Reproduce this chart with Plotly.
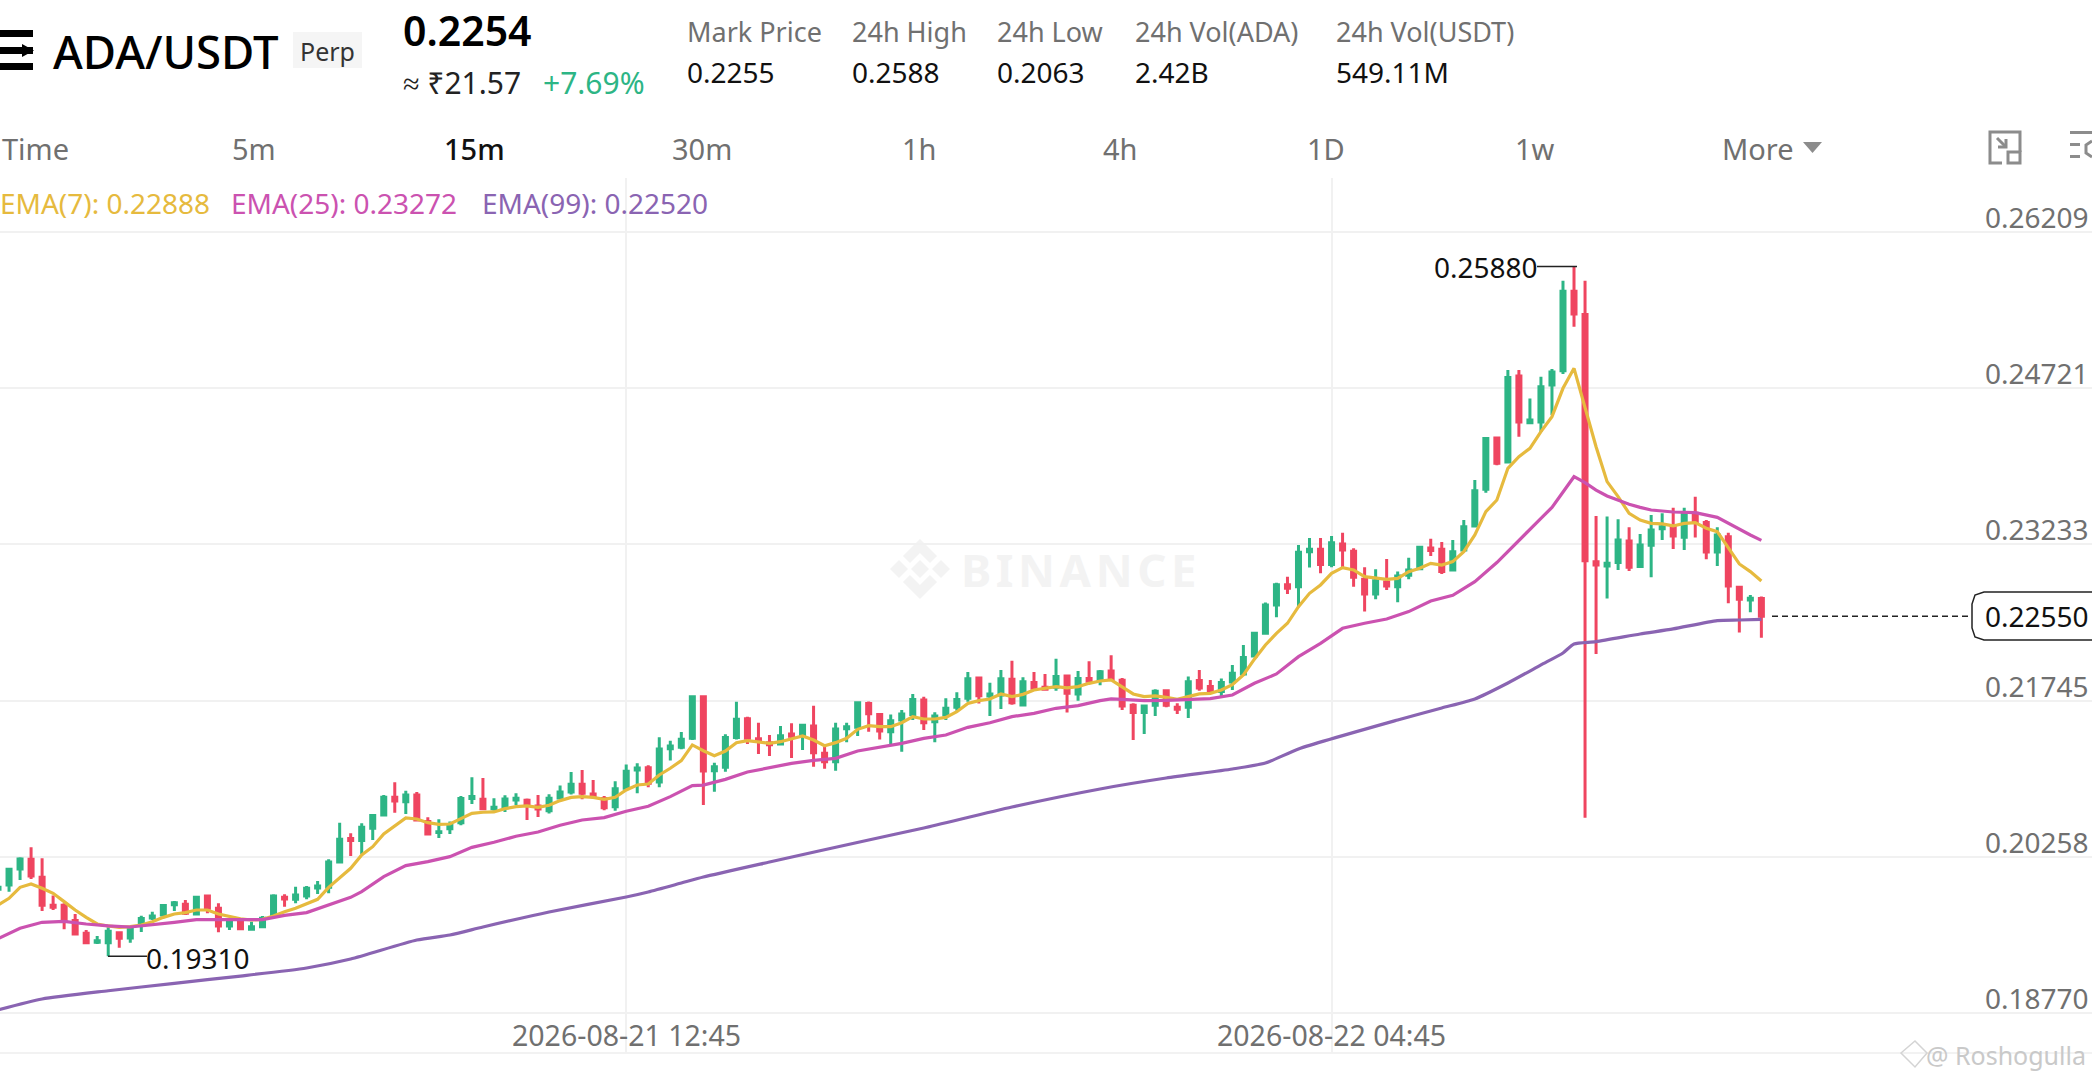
import pandas as pd
import plotly.graph_objects as go

W, H = 2092, 1079
FONT = "Noto Sans"

# candles, 15m
opens = [
    .19948, .19989, .20142, .20234, .20062, .19796, .19796, .19650, .19529, .19443,
    .19440, .19535, .19485, .19612, .19675, .19704, .19802, .19805, .19713, .19885,
    .19767, .19599, .19650, .19567, .19592, .19704, .19872, .19853, .19885, .19961,
    .19967, .20208, .20431, .20412, .20529, .20656, .20824, .20783, .20847, .20593,
    .20488, .20526, .20583, .20812, .20805, .20716, .20729, .20799, .20796, .20742,
    .20697, .20818, .20875, .20948, .20856, .20812, .20735, .20910, .21085, .21107,
    .20970, .21288, .21301, .21386, .21783, .21078, .21110, .21395, .21573, .21383,
    .21345, .21332, .21427, .21408, .21503, .21243, .21164, .21478, .21491, .21719,
    .21614, .21449, .21560, .21614, .21751, .21545, .21608, .21681, .21767, .21961,
    .21789, .21799, .21948, .21704, .21917, .21872, .21872, .21980, .21809, .21955,
    .21942, .22028, .21939, .21701, .21631, .21701, .21840, .21682, .21682, .21936,
    .21879, .21831, .21923, .21999, .22171, .22386, .22656, .22850, .22831, .23164,
    .23187, .23041, .23237, .23168, .22901, .22761, .22875, .22831, .22939, .23002,
    .23199, .23187, .22990, .23180, .23408, .23758, .24247, .24018, .24837, .24393,
    .24399, .24751, .24888, .25644, .25424, .23069, .23028, .23060, .23266, .23022,
    .23225, .23383, .23402, .23301, .23529, .23441, .23161, .23307, .22825, .22704,
    .22717,
]
highs = [
    .19989, .20148, .20253, .20348, .20243, .19888, .19815, .19713, .19561, .19504,
    .19586, .19545, .19577, .19697, .19735, .19799, .19837, .19846, .19878, .19897,
    .19815, .19662, .19662, .19640, .19694, .19900, .19900, .19973, .19980, .20027,
    .20234, .20583, .20481, .20577, .20662, .20847, .20967, .20888, .20875, .20634,
    .20615, .20593, .20837, .21015, .21009, .20815, .20843, .20862, .20812, .20847,
    .20853, .20936, .21066, .21085, .20989, .20837, .20977, .21136, .21148, .21129,
    .21396, .21364, .21447, .21795, .21795, .21154, .21424, .21735, .21592, .21535,
    .21418, .21503, .21529, .21522, .21697, .21306, .21535, .21535, .21735, .21738,
    .21624, .21614, .21656, .21808, .21783, .21634, .21767, .21824, .22018, .21973,
    .21916, .22037, .22126, .21967, .22018, .21999, .22145, .21990, .22028, .22120,
    .22037, .22177, .21961, .21720, .21704, .21853, .21853, .21720, .21974, .22037,
    .21942, .21955, .22085, .22275, .22402, .22679, .22869, .22926, .23228, .23295,
    .23295, .23314, .23345, .23196, .23015, .22996, .23095, .22974, .23107, .23206,
    .23288, .23256, .23275, .23466, .23846, .24250, .24253, .24894, .24894, .24624,
    .24831, .24904, .25745, .25880, .25745, .23504, .23498, .23472, .23396, .23333,
    .23514, .23529, .23583, .23583, .23688, .23466, .23396, .23345, .22837, .22752,
    .22736,
]
lows = [
    .19935, .19926, .20037, .20047, .19742, .19751, .19567, .19510, .19427, .19427,
    .19310, .19392, .19440, .19542, .19656, .19681, .19742, .19704, .19704, .19719,
    .19539, .19561, .19567, .19561, .19583, .19681, .19783, .19815, .19853, .19904,
    .19910, .20202, .20266, .20285, .20418, .20650, .20678, .20666, .20596, .20469,
    .20437, .20475, .20558, .20761, .20710, .20697, .20685, .20751, .20608, .20637,
    .20669, .20805, .20850, .20805, .20812, .20701, .20697, .20901, .20862, .20920,
    .20920, .21174, .21282, .21370, .20751, .20878, .21068, .21376, .21332, .21237,
    .21218, .21319, .21199, .21275, .21116, .21097, .21078, .21348, .21408, .21449,
    .21376, .21329, .21259, .21560, .21465, .21348, .21560, .21649, .21735, .21719,
    .21599, .21665, .21707, .21694, .21840, .21840, .21840, .21631, .21745, .21923,
    .21891, .21936, .21656, .21370, .21428, .21599, .21682, .21618, .21580, .21840,
    .21809, .21790, .21847, .21980, .22158, .22380, .22539, .22761, .22634, .23012,
    .22958, .23015, .23015, .22831, .22593, .22710, .22799, .22682, .22901, .22996,
    .23123, .22952, .22990, .23164, .23402, .23726, .23986, .24012, .24259, .24380,
    .24304, .24466, .24856, .25307, .20630, .22190, .22717, .22990, .22980, .23022,
    .22920, .23275, .23190, .23180, .23298, .23091, .23028, .22672, .22393, .22587,
    .22345,
]
closes = [
    .19967, .20139, .20237, .20075, .19796, .19777, .19650, .19523, .19440, .19459,
    .19548, .19481, .19567, .19669, .19694, .19793, .19821, .19719, .19872, .19767,
    .19599, .19650, .19573, .19592, .19672, .19885, .19856, .19894, .19958, .19980,
    .20208, .20424, .20412, .20539, .20650, .20824, .20789, .20847, .20608, .20475,
    .20497, .20558, .20812, .20831, .20716, .20729, .20809, .20815, .20764, .20713,
    .20815, .20875, .20948, .20862, .20837, .20726, .20907, .21072, .21104, .20958,
    .21285, .21313, .21377, .21783, .21075, .21116, .21395, .21567, .21386, .21364,
    .21326, .21411, .21405, .21510, .21249, .21164, .21475, .21497, .21726, .21621,
    .21456, .21554, .21618, .21757, .21535, .21599, .21672, .21757, .21954, .21792,
    .21808, .21954, .21726, .21926, .21863, .21853, .21974, .21815, .21955, .21929,
    .22021, .21948, .21694, .21631, .21694, .21834, .21701, .21663, .21926, .21866,
    .21828, .21917, .22005, .22155, .22386, .22656, .22850, .22815, .23158, .23187,
    .23041, .23250, .23180, .22920, .22761, .22888, .22837, .22933, .22990, .23206,
    .23174, .22974, .23164, .23402, .23745, .24243, .24005, .24824, .24399, .24418,
    .24735, .24875, .25644, .25428, .23078, .23037, .23053, .23275, .23015, .23228,
    .23371, .23402, .23314, .23529, .23450, .23161, .23323, .22837, .22710, .22720,
    .22550,
]
times = pd.date_range("2026-08-20 22:30", periods=len(closes), freq="15min")

ema7 = [
    .19799, .19862, .19967, .19999, .19958, .19910, .19831, .19751, .19681, .19618,
    .19599, .19586, .19592, .19608, .19640, .19681, .19713, .19726, .19751, .19751,
    .19713, .19688, .19666, .19656, .19662, .19694, .19735, .19767, .19808, .19853,
    .19967, .20053, .20148, .20275, .20354, .20475, .20551, .20628, .20618, .20583,
    .20567, .20570, .20621, .20672, .20682, .20685, .20716, .20735, .20742, .20729,
    .20748, .20793, .20824, .20831, .20824, .20805, .20824, .20894, .20942, .20951,
    .21037, .21101, .21174, .21323, .21268, .21221, .21265, .21345, .21364, .21354,
    .21338, .21354, .21380, .21408, .21370, .21316, .21345, .21386, .21472, .21507,
    .21497, .21497, .21535, .21592, .21570, .21570, .21586, .21640, .21719, .21745,
    .21761, .21808, .21783, .21805, .21847, .21863, .21879, .21866, .21879, .21910,
    .21932, .21942, .21872, .21809, .21783, .21790, .21777, .21758, .21783, .21809,
    .21815, .21847, .21897, .21990, .22140, .22275, .22386, .22482, .22640, .22767,
    .22847, .22958, .23012, .22990, .22926, .22910, .22901, .22910, .22974, .23006,
    .23053, .23037, .23069, .23164, .23323, .23545, .23656, .23958, .24069, .24148,
    .24307, .24450, .24720, .24910, .24545, .24164, .23831, .23688, .23529, .23465,
    .23434, .23428, .23409, .23434, .23441, .23387, .23355, .23196, .23047, .22974,
    .22885,
]
ema25_at = [
    0, 2, 4, 6, 8, 10, 12, 14, 16, 18, 20, 22, 24, 26, 28, 30, 32, 33, 35, 37, 39, 41, 43, 45,
    47, 49, 51, 53, 55, 57, 59, 61, 62, 63, 64, 66, 68, 70, 72, 74, 76, 78, 80, 82, 84, 86, 88,
    90, 92, 94, 96, 98, 100, 101, 102, 104, 106, 108, 110, 112, 114, 116, 118, 120, 122, 124,
    126, 128, 130, 132, 134, 136, 138, 139, 140, 141, 142, 143, 144, 145, 146, 147, 148, 149,
    150, 152, 154, 156, 157, 158, 159, 160,
]
ema25 = [
    .19478, .19577, .19634, .19643, .19618, .19599, .19589, .19608, .19634, .19659, .19662,
    .19659, .19659, .19700, .19726, .19799, .19872, .19926, .20069, .20174, .20212, .20259,
    .20348, .20396, .20453, .20494, .20558, .20608, .20631, .20691, .20739, .20831, .20882,
    .20936, .20941, .20995, .21065, .21103, .21148, .21176, .21195, .21265, .21300, .21338,
    .21386, .21418, .21491, .21535, .21593, .21624, .21672, .21698, .21745, .21761, .21758,
    .21745, .21748, .21758, .21764, .21799, .21910, .21999, .22164, .22291, .22434, .22482,
    .22523, .22593, .22694, .22748, .22879, .23060, .23275, .23377, .23481, .23586, .23735,
    .23878, .23821, .23751, .23694, .23656, .23615, .23586, .23561, .23542, .23536, .23491,
    .23434, .23377, .23323, .23272,
]
ema99_at = [
    0, 4, 10, 16, 22, 28, 32, 38, 41, 44, 50, 57, 59, 62, 64, 70, 79, 84, 92, 100, 106, 112,
    115, 118, 127, 131, 134, 137, 140, 142, 143, 145, 149, 152, 156, 158, 160,
]
ema99 = [
    .18799, .18903, .18982, .19053, .19122, .19199, .19284, .19465, .19513, .19589, .19732,
    .19875, .19923, .20008, .20065, .20208, .20418, .20532, .20732, .20904, .21008, .21094,
    .21151, .21285, .21561, .21675, .21761, .21913, .22085, .22199, .22285, .22307, .22380,
    .22428, .22507, .22513, .22520,
]

y_ticks = [.26209, .24721, .23233, .21745, .20258, .18770]
y_tick_text = ["0.26209", "0.24721", "0.23233", "0.21745", "0.20258", "0.18770"]
x_ticks = ["2026-08-21 12:45", "2026-08-22 04:45"]
periods = ["Time", "5m", "15m", "30m", "1h", "4h", "1D", "1w", "More"]
period_x = [3, 233, 445, 673, 903, 1104, 1308, 1516, 1723]
stats = [("Mark Price", "0.2255"), ("24h High", "0.2588"), ("24h Low", "0.2063"),
         ("24h Vol(ADA)", "2.42B"), ("24h Vol(USDT)", "549.11M")]
stats_x = [688, 853, 998, 1136, 1337]
last_price = 0.22550

GREEN = "#2DB585"
RED = "#EF4560"
C7, C25, C99 = "#E6BA3E", "#CB52B0", "#8A64B2"
GREY = "#707070"
GRID = "#F1F1F1"

fig = go.Figure()
fig.add_trace(go.Candlestick(
    x=times, open=opens, high=highs, low=lows, close=closes,
    increasing=dict(line=dict(color=GREEN, width=3), fillcolor=GREEN),
    decreasing=dict(line=dict(color=RED, width=3), fillcolor=RED),
    whiskerwidth=0, hoverinfo="skip",
))
fig.add_trace(go.Scatter(x=times, y=ema7, mode="lines", line=dict(color=C7, width=3.2)))
fig.add_trace(go.Scatter(x=times[ema25_at], y=ema25, mode="lines",
                         line=dict(color=C25, width=3.2)))
fig.add_trace(go.Scatter(x=times[ema99_at], y=ema99, mode="lines",
                         line=dict(color=C99, width=3.2, shape="spline", smoothing=0.6)))

annotations = []
shapes = []


def px_x(x):
    return x / W


def px_y(y):
    return 1 - y / H


def text(x, y, s, size, color, anchor="left", weight=400):
    # annotations carry a small pad, take it back so x is the ink edge
    pad = {"left": -3, "right": 3, "center": 0}[anchor]
    annotations.append(dict(
        x=px_x(x + pad), y=px_y(y), xref="paper", yref="paper", text=s, showarrow=False,
        xanchor=anchor, yanchor="middle",
        font=dict(family=FONT, size=size, color=color, weight=weight),
    ))


def rect(x0, y0, x1, y1, fill=None, line=None, lw=0, layer="above"):
    shapes.append(dict(
        type="rect", xref="paper", yref="paper", x0=px_x(x0), x1=px_x(x1), y0=px_y(y0), y1=px_y(y1),
        fillcolor=fill, line=dict(color=line, width=lw), layer=layer,
    ))


def poly(points, fill=None, line=None, lw=0, layer="above", close=True):
    path = "M" + " L".join(f"{px_x(a):.5f},{px_y(b):.5f}" for a, b in points) + (" Z" if close else "")
    shapes.append(dict(
        type="path", xref="paper", yref="paper", path=path, fillcolor=fill,
        line=dict(color=line, width=lw), layer=layer,
    ))


# header
for y0 in (30, 47, 63):
    rect(0, y0, 33, y0 + 7, fill="black")
poly([(22, 44), (34, 50.5), (22, 57)], fill="black")
text(54, 51, "ADA/USDT", 45.5, "black", weight=500)
rect(293, 32, 362, 68, fill="#F5F5F5")
text(327.5, 51, "Perp", 25, "#333333", anchor="center")
text(404, 30, "0.2254", 41, "black", weight=600)
text(404, 83, "≈ ₹21.57", 30, "#222222")
text(544, 83, "+7.69%", 30, GREEN)
for (label, value), sx in zip(stats, stats_x):
    text(sx, 32, label, 27, GREY)
    text(sx, 72, value, 28, "#111111")

# period bar
for name, px in zip(periods, period_x):
    text(px, 148, name, 29, "#111111" if name == "15m" else GREY, weight=500 if name == "15m" else 400)
poly([(1803, 142), (1822, 142), (1812.5, 153)], fill="#8C8C8C")

# tool icons
poly([(2004, 132), (1990, 132), (1990, 163), (2002, 163)], line="#8C8C8C", lw=3, close=False)
poly([(2020, 152), (2020, 132), (2004, 132)], line="#8C8C8C", lw=3, close=False)
rect(2008, 152, 2020, 163, line="#8C8C8C", lw=3)
poly([(1997, 138), (2006, 147)], line="#8C8C8C", lw=3, close=False)
poly([(2006, 139), (2006, 147), (1998, 147)], line="#8C8C8C", lw=3, close=False)
rect(2070, 131, 2092, 134, fill="#8C8C8C")
rect(2070, 143, 2080, 146, fill="#8C8C8C")
rect(2070, 155, 2080, 158, fill="#8C8C8C")
poly([(2092, 141), (2086, 145), (2086, 153), (2092, 157)], line="#8C8C8C", lw=3, close=False)

# ema legend
text(1, 203, f"EMA(7): {0.22888:.5f}", 28, C7)
text(232, 203, f"EMA(25): {0.23272:.5f}", 28, C25)
text(483, 203, f"EMA(99): {0.22520:.5f}", 28, C99)

# watermark in the plot
WM = "#F3F3F3"
poly([(920, 539), (937, 556), (930, 563), (920, 553), (910, 563), (903, 556)], fill=WM, layer="below")
poly([(920, 599), (937, 582), (930, 575), (920, 585), (910, 575), (903, 582)], fill=WM, layer="below")
poly([(920, 560), (929, 569), (920, 578), (911, 569)], fill=WM, layer="below")
poly([(899, 560), (908, 569), (899, 578), (890, 569)], fill=WM, layer="below")
poly([(941, 560), (950, 569), (941, 578), (932, 569)], fill=WM, layer="below")
annotations.append(dict(
    x=px_x(1078), y=px_y(569), xref="paper", yref="paper", text="B\u200aI\u200aN\u200aA\u200aN\u200aC\u200aE",
    showarrow=False, xanchor="center", yanchor="middle",
    font=dict(family=FONT, size=45.5, color=WM, weight=700),
))

# price scale labels, sitting above their grid lines
for value, label in zip(y_ticks, y_tick_text):
    annotations.append(dict(
        x=px_x(2091), y=value, xref="paper", yref="y", text=label, showarrow=False,
        xanchor="right", yanchor="middle", yshift=15, font=dict(family=FONT, size=28, color=GREY),
    ))
for value in x_ticks:
    annotations.append(dict(
        x=value, y=px_y(1035), xref="x", yref="paper", text=value, showarrow=False,
        xanchor="center", yanchor="middle", font=dict(family=FONT, size=28.5, color=GREY),
    ))

# high / low markers
hi_i = highs.index(max(highs))
lo_i = lows.index(min(lows))
shapes.append(dict(type="line", xref="paper", yref="y", x0=px_x(1537), x1=px_x(1577),
                   y0=highs[hi_i], y1=highs[hi_i], line=dict(color="#222222", width=1.5)))
shapes.append(dict(type="line", xref="paper", yref="y", x0=px_x(108), x1=px_x(147),
                   y0=lows[lo_i], y1=lows[lo_i], line=dict(color="#222222", width=1.5)))
annotations.append(dict(
    x=px_x(1540), y=highs[hi_i], xref="paper", yref="y", text=f"{highs[hi_i]:.5f}", showarrow=False,
    xanchor="right", yanchor="middle", font=dict(family=FONT, size=28, color="#111111"),
))
annotations.append(dict(
    x=px_x(144), y=lows[lo_i], xref="paper", yref="y", text=f"{lows[lo_i]:.5f}", showarrow=False,
    xanchor="left", yanchor="middle", yshift=-2, font=dict(family=FONT, size=28, color="#111111"),
))

# last price line and tag
shapes.append(dict(type="line", xref="paper", yref="y", x0=px_x(1772), x1=px_x(1972),
                   y0=last_price, y1=last_price, line=dict(color="#222222", width=1.5, dash="6px,4px")))
rx = 12
poly([(2100, 592), (1972 + rx, 592), (1975, 595), (1972, 592 + rx), (1972, 640 - rx), (1975, 637),
      (1972 + rx, 640), (2100, 640)], fill="white", line="#222222", lw=1.5)
annotations.append(dict(
    x=px_x(2091), y=last_price, xref="paper", yref="y", text=f"{last_price:.5f}", showarrow=False,
    xanchor="right", yanchor="middle", font=dict(family=FONT, size=28, color="#111111"),
))

# corner credit
text(2085, 1055, "@ Roshogulla", 25, "#C9C9C9", anchor="right")
poly([(1915, 1041), (1927, 1053), (1915, 1067), (1901, 1053)], line="#D4D4D4", lw=1.5)

rect(0, 1052.5, W, 1053.5, fill="#E6E6E6", layer="below")

fig.update_layout(
    width=W, height=H,
    margin=dict(l=0, r=0, t=0, b=0),
    paper_bgcolor="white", plot_bgcolor="white",
    showlegend=False, boxgap=0.48,
    font=dict(family=FONT),
    annotations=annotations, shapes=shapes,
    xaxis=dict(
        domain=[0, 1], type="date",
        range=["2026-08-20 22:32:42", "2026-08-22 22:00:00"],
        rangeslider=dict(visible=False),
        tickvals=x_ticks, showticklabels=False, ticks="",
        showgrid=True, gridcolor=GRID, gridwidth=1.5, zeroline=False, showline=False,
    ),
    yaxis=dict(
        domain=[1 - 1053 / H, 1 - 178 / H],
        range=[0.18389, 0.26723],
        tickvals=y_ticks, showticklabels=False, ticks="",
        showgrid=True, gridcolor=GRID, gridwidth=1.5, zeroline=False, showline=False,
    ),
)

fig.write_html(
    "out.html",
    config=dict(displayModeBar=False),
    post_script="document.body.style.margin='0';document.body.style.overflow='hidden';",
)
